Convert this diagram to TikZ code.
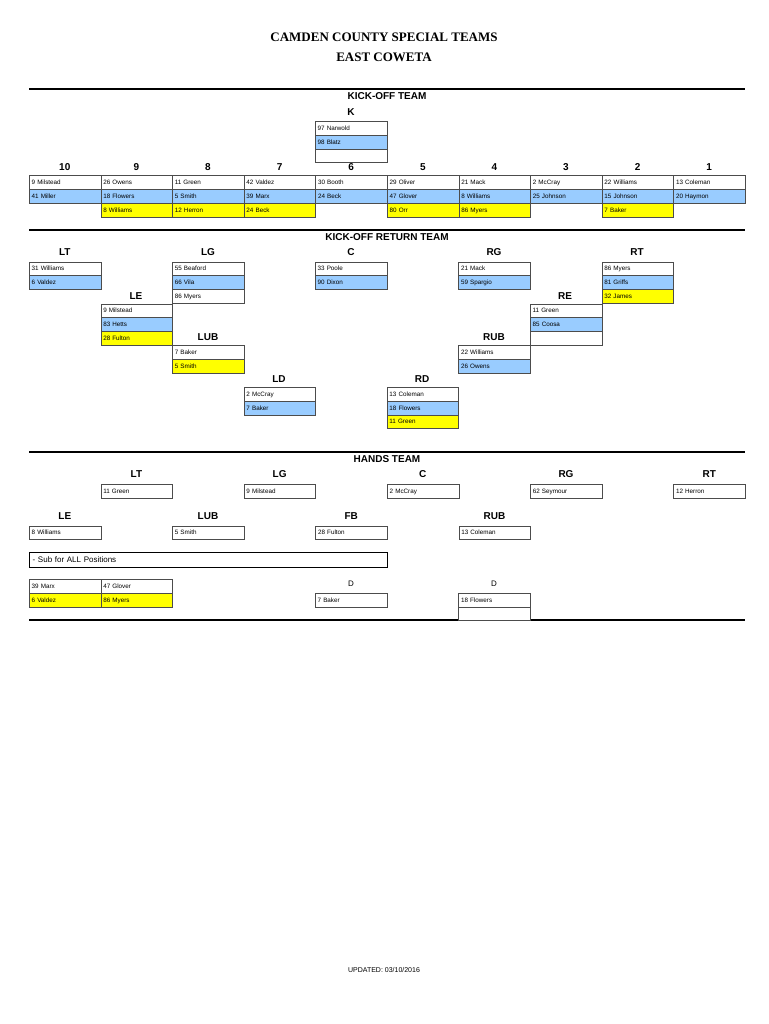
\documentclass[tikz,border=0pt]{standalone}
\usepackage{fontspec}
\setmainfont{Liberation Sans}
\newfontfamily\serifb{Liberation Serif}
\definecolor{cblue}{HTML}{99CCFF}
\definecolor{cyell}{HTML}{FFFF00}
\newcommand{\cellbox}[5]{% x y width fill text
  \node[cellst,fill=#4,minimum width=#3pt] at (#1pt,-#2pt) {#5};}
\newcommand{\hdr}[3]{\node[hdrst] at (#1pt,-#2pt) {#3};}
\tikzset{
 cellst/.style={draw=black!70,line width=0.7pt,anchor=north west,minimum height=13.8pt,inner sep=1.5pt,align=left,text width=67pt,font=\fontsize{6.3}{7}\selectfont,text height=5pt,text depth=1pt},
 hdrst/.style={font=\fontsize{10}{11}\bfseries\selectfont},
 rulest/.style={line width=1.3pt},
 secst/.style={font=\fontsize{10}{11}\bfseries\selectfont}
}
\begin{document}
\begin{tikzpicture}[x=1pt,y=1pt]
\useasboundingbox (0,0) rectangle (768,-1024);
\node[font=\serifb\fontsize{13}{14}\bfseries\selectfont] (t1) at (384,-37) {CAMDEN COUNTY SPECIAL TEAMS};
\node[font=\serifb\fontsize{13}{14}\bfseries\selectfont] (t2) at (384,-57) {EAST COWETA};
\foreach \y in {89,230,452,620} \draw[rulest] (29,-\y) -- (745,-\y);
\node[secst] (s1) at (387,-96) {KICK-OFF TEAM};
\node[secst] (s2) at (387,-237) {KICK-OFF RETURN TEAM};
\node[secst] (s3) at (387,-459) {HANDS TEAM};
\def\W{71.6}
% kicker
\hdr{351}{112}{K}
\cellbox{315}{121}{\W}{white}{97 Narwold}
\cellbox{315}{134.8}{\W}{cblue}{98 Blatz}
\cellbox{315}{148.6}{\W}{white}{}
% kickoff columns
\foreach \i/\n/\a/\b/\c in {0/10/9 Milstead/41 Miller/,1/9/26 Owens/18 Flowers/8 Williams,2/8/11 Green/5 Smith/12 Herron,3/7/42 Valdez/39 Marx/24 Beck,4/6/30 Booth/24 Beck/,5/5/29 Oliver/47 Glover/80 Orr,6/4/21 Mack/8 Williams/86 Myers,7/3/2 McCray/25 Johnson/,8/2/22 Williams/15 Johnson/7 Baker,9/1/13 Coleman/20 Haymon/}{
  \pgfmathsetmacro\xx{29+71.6*\i}
  \pgfmathsetmacro\xc{\xx+35.8}
  \hdr{\xc}{167}{\n}
  \cellbox{\xx}{175.5}{\W}{white}{\a}
  \cellbox{\xx}{189.3}{\W}{cblue}{\b}
  \ifx\c\empty\else\cellbox{\xx}{203.1}{\W}{cyell}{\c}\fi
}
% return team
\hdr{64.8}{252}{LT}
\cellbox{29}{261.5}{\W}{white}{31 Williams}
\cellbox{29}{275.3}{\W}{cblue}{6 Valdez}
\hdr{208}{252}{LG}
\cellbox{172.2}{261.5}{\W}{white}{55 Beaford}
\cellbox{172.2}{275.3}{\W}{cblue}{66 Vila}
\cellbox{172.2}{289.1}{\W}{white}{86 Myers}
\hdr{351}{252}{C}
\cellbox{315}{261.5}{\W}{white}{33 Poole}
\cellbox{315}{275.3}{\W}{cblue}{90 Dixon}
\hdr{494}{252}{RG}
\cellbox{458.4}{261.5}{\W}{white}{21 Mack}
\cellbox{458.4}{275.3}{\W}{cblue}{59 Spargio}
\hdr{637}{252}{RT}
\cellbox{601.6}{261.5}{\W}{white}{86 Myers}
\cellbox{601.6}{275.3}{\W}{cblue}{81 Griffs}
\cellbox{601.6}{289.1}{\W}{cyell}{32 James}
\hdr{136}{296}{LE}
\cellbox{100.6}{303.5}{\W}{white}{9 Milstead}
\cellbox{100.6}{317.3}{\W}{cblue}{83 Hetts}
\cellbox{100.6}{331.1}{\W}{cyell}{28 Fulton}
\hdr{565}{296}{RE}
\cellbox{530}{303.5}{\W}{white}{11 Green}
\cellbox{530}{317.3}{\W}{cblue}{85 Coosa}
\cellbox{530}{331.1}{\W}{white}{}
\hdr{208}{337}{LUB}
\cellbox{172.2}{345}{\W}{white}{7 Baker}
\cellbox{172.2}{358.8}{\W}{cyell}{5 Smith}
\hdr{494}{337}{RUB}
\cellbox{458.4}{345}{\W}{white}{22 Williams}
\cellbox{458.4}{358.8}{\W}{cblue}{26 Owens}
\hdr{279}{379}{LD}
\cellbox{243.8}{387}{\W}{white}{2 McCray}
\cellbox{243.8}{400.8}{\W}{cblue}{7 Baker}
\hdr{422}{379}{RD}
\cellbox{386.8}{387}{\W}{white}{13 Coleman}
\cellbox{386.8}{400.8}{\W}{cblue}{18 Flowers}
\cellbox{386.8}{414.6}{\W}{cyell}{11 Green}
% hands team
\foreach \i/\n/\t in {1/LT/11 Green,3/LG/9 Milstead,5/C/2 McCray,7/RG/62 Seymour,9/RT/12 Herron}{
  \pgfmathsetmacro\xx{29+71.6*\i}
  \pgfmathsetmacro\xc{\xx+35.8}
  \hdr{\xc}{474}{\n}
  \cellbox{\xx}{484}{\W}{white}{\t}
}
\foreach \i/\n/\t in {0/LE/8 Williams,2/LUB/5 Smith,4/FB/28 Fulton,6/RUB/13 Coleman}{
  \pgfmathsetmacro\xx{29+71.6*\i}
  \pgfmathsetmacro\xc{\xx+35.8}
  \hdr{\xc}{516}{\n}
  \cellbox{\xx}{525.5}{\W}{white}{\t}
}
\node[draw,line width=1.3pt,anchor=north west,minimum width=358pt,minimum height=15pt,inner sep=2pt,text width=352pt,align=left,font=\fontsize{8}{9}\selectfont] (sub) at (29,-551.5) {- Sub for ALL Positions};
\cellbox{29}{579}{\W}{white}{39 Marx}
\cellbox{100.6}{579}{\W}{white}{47 Glover}
\cellbox{29}{592.8}{\W}{cyell}{6 Valdez}
\cellbox{100.6}{592.8}{\W}{cyell}{86 Myers}
\node[font=\fontsize{8}{9}\selectfont] (d1) at (351,-584) {D};
\node[font=\fontsize{8}{9}\selectfont] (d2) at (494,-584) {D};
\cellbox{315}{592.8}{\W}{white}{7 Baker}
\cellbox{458.4}{592.8}{\W}{white}{18 Flowers}
\cellbox{458.4}{606.6}{\W}{white}{}
\node[font=\fontsize{7}{8}\selectfont] (upd) at (384,-970) {UPDATED: 03/10/2016};
\end{tikzpicture}
\end{document}
